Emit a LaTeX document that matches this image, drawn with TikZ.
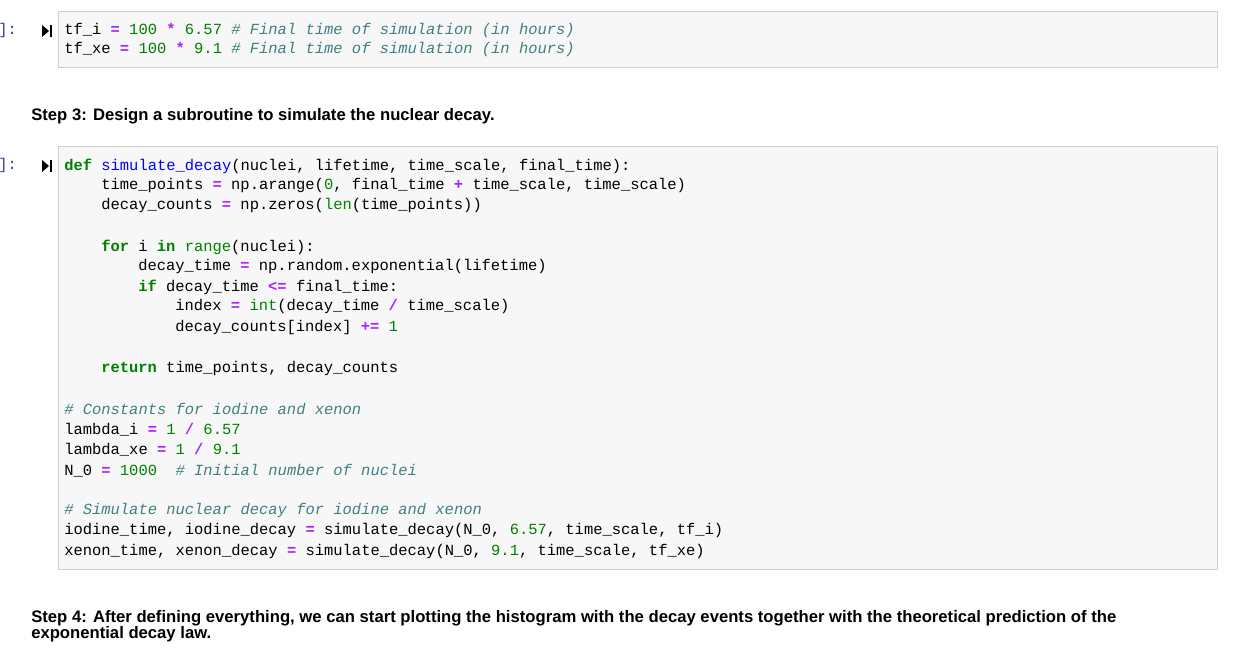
\documentclass[tikz,border=0pt]{standalone}
\usepackage{fontspec}
\setmainfont{Liberation Sans}
\setmonofont{Liberation Mono}
\definecolor{kwc}{HTML}{008000}
\definecolor{opc}{HTML}{AA22FF}
\definecolor{fnc}{HTML}{0000FF}
\definecolor{cmc}{HTML}{408080}
\definecolor{prc}{HTML}{303F9F}
\definecolor{cellbg}{HTML}{F7F7F7}
\definecolor{cellbd}{HTML}{CFCFCF}
\newcommand{\kw}[1]{\textcolor{kwc}{\textbf{#1}}}
\newcommand{\op}[1]{\textcolor{opc}{\textbf{#1}}}
\newcommand{\nm}[1]{\textcolor{kwc}{#1}}
\newcommand{\fn}[1]{\textcolor{fnc}{#1}}
\newcommand{\cm}[1]{\textcolor{cmc}{\textit{#1}}}
\begin{document}
\begin{tikzpicture}[x=0.75pt,y=-0.75pt,
  code/.style={anchor=west,inner sep=0pt,font=\fontsize{11.6pt}{14pt}\ttfamily,text=black},
  prompt/.style={anchor=west,inner sep=0pt,font=\fontsize{11.6pt}{14pt}\ttfamily,text=prc},
  cell/.style={fill=cellbg,draw=cellbd,line width=0.75pt},
  head/.style={anchor=west,inner sep=0pt,font=\fontsize{12.5pt}{12pt}\selectfont\bfseries,text=black,align=left}]
\useasboundingbox (0,0) rectangle (1240,652);
\fill[white] (0,0) rectangle (1240,652);
% cell 1
\draw[cell] (58,12) rectangle (1217,68);
\node[prompt] (p1) at (-2,31) {]:};
\fill (42,25) -- (49,31) -- (42,37) -- cycle; \fill (49.5,25) rectangle (51.5,37);
\node[code] (a1) at (64,31) {tf\_i \op{=} \nm{100} \op{*} \nm{6.57} \cm{\# Final time of simulation (in hours)}};
\node[code] (a2) at (64,50) {tf\_xe \op{=} \nm{100} \op{*} \nm{9.1} \cm{\# Final time of simulation (in hours)}};
\node[head] (h3) at (31,116) {Step 3: Design a subroutine to simulate the nuclear decay.};
% cell 2
\draw[cell] (58,147) rectangle (1217,569);
\node[prompt] (p2) at (-2,166) {]:};
\fill (42,160) -- (49,166) -- (42,172) -- cycle; \fill (49.5,160) rectangle (51.5,172);
\node[code] (b0) at (64,166) {\kw{def} \fn{simulate\_decay}(nuclei, lifetime, time\_scale, final\_time):};
\node[code] (b1) at (101,186) {time\_points \op{=} np.arange(\nm{0}, final\_time \op{+} time\_scale, time\_scale)};
\node[code] (b2) at (101,206) {decay\_counts \op{=} np.zeros(\nm{len}(time\_points))};
\node[code] (b4) at (101,247) {\kw{for} i \kw{in} \nm{range}(nuclei):};
\node[code] (b5) at (138,267) {decay\_time \op{=} np.random.exponential(lifetime)};
\node[code] (b6) at (138,287) {\kw{if} decay\_time \op{<=} final\_time:};
\node[code] (b7) at (175,307) {index \op{=} \nm{int}(decay\_time \op{/} time\_scale)};
\node[code] (b8) at (175,328) {decay\_counts[index] \op{+=} \nm{1}};
\node[code] (b10) at (101,369) {\kw{return} time\_points, decay\_counts};
\node[code] (b12) at (64,409) {\cm{\# Constants for iodine and xenon}};
\node[code] (b13) at (64,430) {lambda\_i \op{=} \nm{1} \op{/} \nm{6.57}};
\node[code] (b14) at (64,450) {lambda\_xe \op{=} \nm{1} \op{/} \nm{9.1}};
\node[code] (b15) at (64,471) {N\_0 \op{=} \nm{1000}\ \ \cm{\# Initial number of nuclei}};
\node[code] (b17) at (64,511) {\cm{\# Simulate nuclear decay for iodine and xenon}};
\node[code] (b18) at (64,531) {iodine\_time, iodine\_decay \op{=} simulate\_decay(N\_0, \nm{6.57}, time\_scale, tf\_i)};
\node[code] (b19) at (64,552) {xenon\_time, xenon\_decay \op{=} simulate\_decay(N\_0, \nm{9.1}, time\_scale, tf\_xe)};
\node[head] (h4a) at (31,618) {Step 4: After defining everything, we can start plotting the histogram with the decay events together with the theoretical prediction of the};
\node[head] (h4b) at (31,634) {exponential decay law.};
\end{tikzpicture}
\end{document}
